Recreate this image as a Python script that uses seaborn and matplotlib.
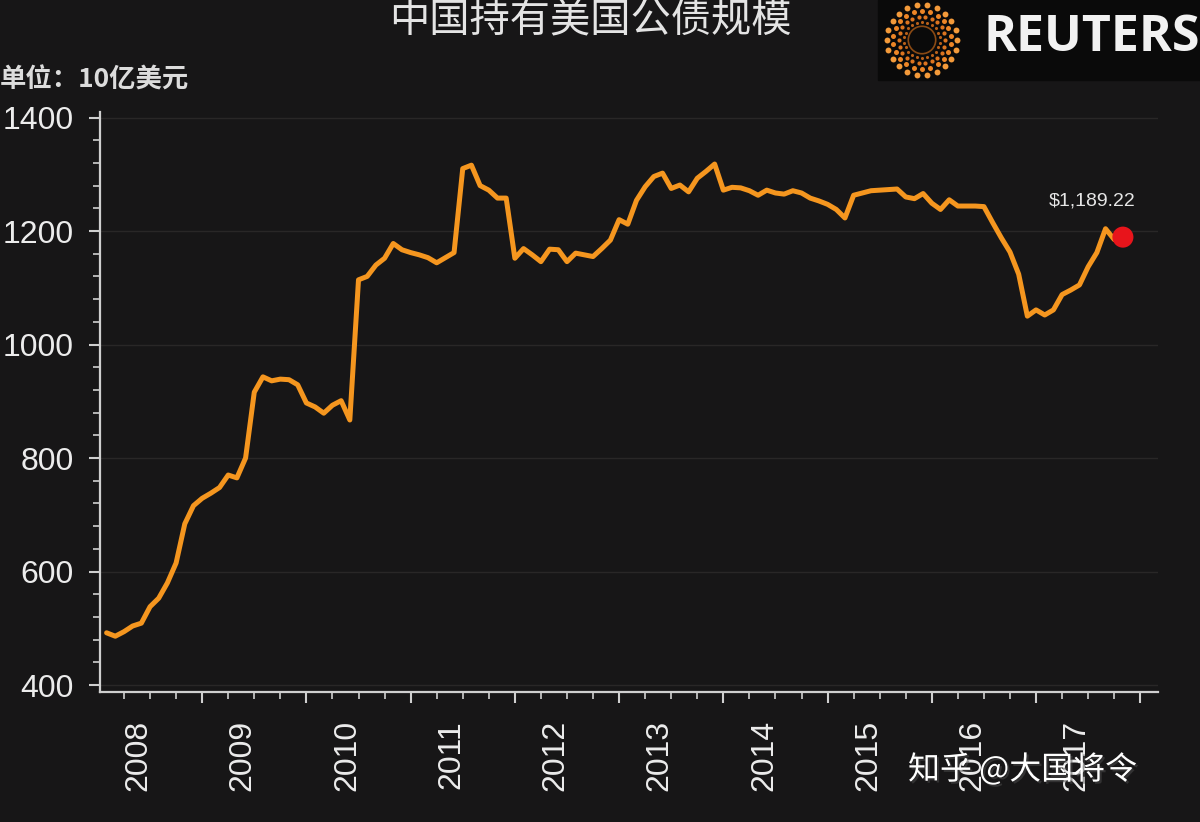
import numpy as np
import pandas as pd
import matplotlib
matplotlib.use('Agg')
import matplotlib.pyplot as plt
import matplotlib.transforms as mtransforms
import matplotlib.patheffects as pe
from matplotlib.patches import Rectangle, Circle
from matplotlib.ticker import MultipleLocator, FixedLocator, NullFormatter
import seaborn as sns

# China's holdings of US Treasuries, monthly, USD bn
years = list(range(2008, 2018))
h2008 = [492, 486, 494, 504, 509, 538, 553, 580, 615, 684, 716, 729]
h2009 = [738, 748, 770, 765, 800, 916, 943, 936, 939, 938, 929, 897]
h2010 = [890, 879, 893, 901, 867, 1114, 1120, 1140, 1152, 1178, 1167, 1162]
h2011 = [1158, 1153, 1144, 1153, 1162, 1310, 1316, 1280, 1272, 1258, 1258, 1152]
h2012 = [1169, 1158, 1146, 1168, 1167, 1146, 1161, 1158, 1155, 1169, 1184, 1220]
h2013 = [1212, 1254, 1278, 1296, 1302, 1275, 1281, 1269, 1293, 1305, 1318, 1272]
h2014 = [1277, 1276, 1271, 1263, 1272, 1267, 1265, 1271, 1267, 1258, 1253, 1247]
h2015 = [1238, 1223, 1263, 1267, 1271, 1272, 1273, 1274, 1260, 1257, 1266, 1249]
h2016 = [1238, 1255, 1244, 1244, 1244, 1243, 1215, 1188, 1163, 1124, 1050, 1061]
h2017 = [1052, 1061, 1088, 1096, 1105, 1137, 1162, 1204, 1185, 1189.22]
year_labels = [str(y) for y in years]

values = h2008 + h2009 + h2010 + h2011 + h2012 + h2013 + h2014 + h2015 + h2016 + h2017
dates = pd.period_range('2008-01', periods=len(values), freq='M')
df = pd.DataFrame({
    't': dates.year + dates.month / 12.0,
    'holdings': values,
})

BG = '#171617'
ORANGE = '#F5961F'
FG = '#ececec'
AXC = '#cfcfcf'

sns.set_theme(style='dark')
plt.rcParams['font.family'] = ['Liberation Sans', 'Noto Sans CJK SC', 'DejaVu Sans']

fig = plt.figure(figsize=(12, 8.22), dpi=100, facecolor=BG)
ax = fig.add_axes([100 / 1200, 130 / 822, 1058 / 1200, 580 / 822])
ax.set_facecolor(BG)

sns.lineplot(data=df, x='t', y='holdings', color=ORANGE, lw=3.6, ax=ax, zorder=3)
last = df.tail(1)
sns.scatterplot(data=last, x='t', y='holdings', color='#e8141b', s=230,
                edgecolor='none', ax=ax, zorder=4, legend=False)
lv = last['holdings'].iloc[0]
ax.annotate('\\$' + f'{lv:,.2f}', xy=(last['t'].iloc[0], lv), xytext=(-31, 36),
            textcoords='offset pixels', ha='center', va='center',
            fontsize=14, color='#e6e6e6')

ax.set_xlim(2008.02, 2018.17)
ax.set_ylim(387.7, 1409.7)
ax.set_xlabel('')
ax.set_ylabel('')

ax.yaxis.set_major_locator(MultipleLocator(200))
ax.yaxis.set_minor_locator(MultipleLocator(40))
ax.xaxis.set_major_locator(FixedLocator([y + 1 for y in years]))
ax.xaxis.set_major_formatter(NullFormatter())
ax.xaxis.set_minor_locator(MultipleLocator(0.25))

ax.grid(False)
ax.yaxis.grid(True, which='major', color='#292727', lw=1)
for s in ['top', 'right']:
    ax.spines[s].set_visible(False)
for s in ['left', 'bottom']:
    ax.spines[s].set_visible(True)
    ax.spines[s].set_color(AXC)
    ax.spines[s].set_linewidth(1.6)

ax.tick_params(axis='y', which='major', left=True, length=8, width=1.5, color=AXC,
               labelsize=23, labelcolor=FG, pad=11)
ax.tick_params(axis='y', which='minor', left=True, length=5, width=1.2, color=AXC)
ax.tick_params(axis='x', which='major', bottom=True, length=8, width=1.5, color=AXC)
ax.tick_params(axis='x', which='minor', bottom=True, length=5, width=1.2, color=AXC)

trans = mtransforms.blended_transform_factory(ax.transData, ax.transAxes)
for y, lab in zip(years, year_labels):
    ax.text(y + 0.39, -0.048, lab, transform=trans, rotation=90, ha='center',
            va='top', fontsize=23, color=FG)

# title and unit
fig.text(590 / 1200, 1 - 20 / 822, '中国持有美国公债规模', ha='center', va='center',
         fontsize=29, color='#e4e4e4', family=['Noto Sans CJK SC'])
fig.text(0.0, 1 - 80 / 822, '单位：10亿美元', ha='left', va='center',
         fontsize=19, weight='bold', color='#dcdcdc',
         family=['Noto Sans CJK SC', 'DejaVu Sans'])

# Reuters badge
fig.patches.append(Rectangle((878 / 1200, 1 - 80 / 822), 322 / 1200, 80 / 822,
                             transform=fig.transFigure, color='#0a0a0a', zorder=-1))
fig.text(983 / 1200, 1 - 38 / 822, 'REUTERS', ha='left', va='center',
         fontsize=36, weight='bold', color='#f2f2f2', family=['Open Sans'])
lax = fig.add_axes([882 / 1200, 1 - 80 / 822, 80 / 1200, 80 / 822], zorder=2)
lax.patch.set_alpha(0)
lax.set_xlim(-1.05, 1.05)
lax.set_ylim(-1.05, 1.05)
lax.set_aspect('equal')
lax.axis('off')
for i, (r, sz, c) in enumerate([(0.92, 18, '#f39a3a'), (0.76, 13, '#ec8526'),
                                 (0.61, 9, '#dc741f'), (0.47, 5, '#b8601a')]):
    ang = np.linspace(0, 2 * np.pi, 22, endpoint=False) + i * np.pi / 22
    lax.scatter(r * np.cos(ang), r * np.sin(ang), s=sz, color=c, lw=0)
lax.add_patch(Circle((0, 0), 0.36, fill=False, ec='#8a4a14', lw=1.2))

# watermark
fig.text(908 / 1200, 1 - 770 / 822, '知乎 @大国将令', ha='left', va='center',
         fontsize=23, color='white', family=['Noto Sans CJK SC', 'DejaVu Sans'],
         path_effects=[pe.withSimplePatchShadow(offset=(1.5, -1.5), alpha=0.5)])

fig.savefig('out.png', dpi=100, facecolor=BG)
